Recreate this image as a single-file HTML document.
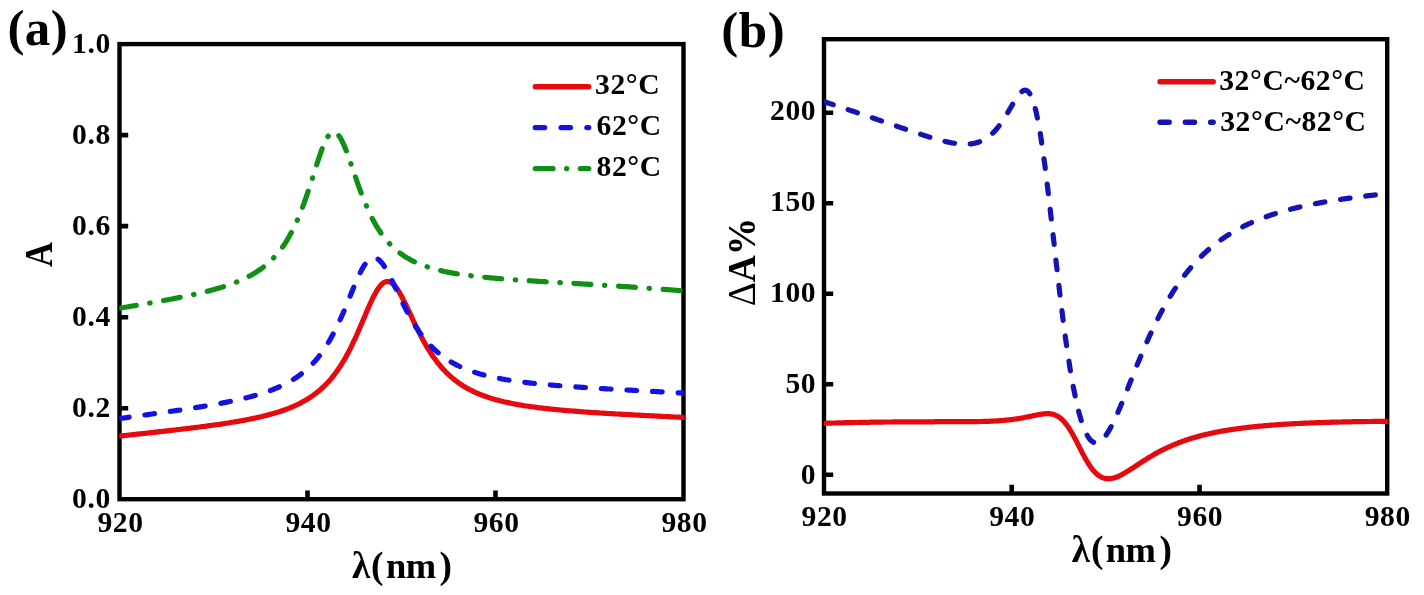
<!DOCTYPE html>
<html lang="en"><head><meta charset="utf-8"><title>Absorption spectra</title>
<style>
html,body{margin:0;padding:0;background:#fff}
body{width:1424px;height:595px;overflow:hidden}
svg{display:block;filter:blur(0.45px)}
text{font-family:"Liberation Serif",serif;font-weight:bold;fill:#000}
.t{font-size:29.6px;letter-spacing:0.6px}
.p{font-size:51px;letter-spacing:0.5px}
.x{font-size:36.5px}
.y{font-size:40px}
.c{fill:none;stroke-linejoin:round}
</style></head><body>
<svg width="1424" height="595" viewBox="0 0 1424 595">
<rect width="1424" height="595" fill="#fff"/>
<defs><clipPath id="ca"><rect x="119.3" y="44.1" width="565.4" height="455.1"/></clipPath><clipPath id="cb"><rect x="823.8" y="39.2" width="564.6" height="454.3"/></clipPath></defs>
<g id="panel-a">
<rect x="119.5" y="44.1" width="564.0" height="455.1" fill="none" stroke="#000" stroke-width="4.4"/>
<path d="M119.5,408.2h8.7 M119.5,317.2h8.7 M119.5,226.1h8.7 M119.5,135.1h8.7 M307.5,499.2v-8.8 M495.5,499.2v-8.8" stroke="#000" stroke-width="4.6" fill="none"/>
<text class="t" x="110.9" y="508.1" text-anchor="end">0.0</text>
<text class="t" x="110.9" y="417.1" text-anchor="end">0.2</text>
<text class="t" x="110.9" y="326.1" text-anchor="end">0.4</text>
<text class="t" x="110.9" y="235.0" text-anchor="end">0.6</text>
<text class="t" x="110.9" y="144.0" text-anchor="end">0.8</text>
<text class="t" x="110.9" y="53.0" text-anchor="end">1.0</text>
<text class="t" x="120.5" y="532.4" text-anchor="middle">920</text>
<text class="t" x="308.5" y="532.4" text-anchor="middle">940</text>
<text class="t" x="496.5" y="532.4" text-anchor="middle">960</text>
<text class="t" x="684.5" y="532.4" text-anchor="middle">980</text>
<text class="p" x="7.4" y="44.5">(a)</text>
<text class="x" x="351.9 371.1 385.95 405.65 439.6" y="578.3"><tspan font-size="37">λ</tspan><tspan font-size="37.4">(</tspan>nm<tspan font-size="37.4">)</tspan></text>
<text class="y" transform="translate(52.4,254.5) rotate(-90) scale(0.865,1)" text-anchor="middle">A</text>
<g clip-path="url(#ca)" stroke-linecap="round">
<path class="c" d="M116.5,436.4 L117.9,436.2 L119.4,436.1 L120.8,435.9 L122.2,435.8 L123.6,435.6 L125.1,435.5 L126.5,435.3 L127.9,435.2 L129.4,435.0 L130.8,434.9 L132.2,434.7 L133.6,434.6 L135.1,434.4 L136.5,434.2 L137.9,434.1 L139.4,433.9 L140.8,433.8 L142.2,433.6 L143.6,433.5 L145.1,433.3 L146.5,433.2 L147.9,433.0 L149.4,432.8 L150.8,432.7 L152.2,432.5 L153.6,432.4 L155.1,432.2 L156.5,432.1 L157.9,431.9 L159.4,431.7 L160.8,431.6 L162.2,431.4 L163.6,431.3 L165.1,431.1 L166.5,430.9 L167.9,430.8 L169.4,430.6 L170.8,430.4 L172.2,430.3 L173.6,430.1 L175.1,430.0 L176.5,429.8 L177.9,429.6 L179.4,429.5 L180.8,429.3 L182.2,429.1 L183.6,428.9 L185.1,428.8 L186.5,428.6 L187.9,428.4 L189.4,428.3 L190.8,428.1 L192.2,427.9 L193.6,427.7 L195.1,427.6 L196.5,427.4 L197.9,427.2 L199.4,427.0 L200.8,426.8 L202.2,426.6 L203.6,426.5 L205.1,426.3 L206.5,426.1 L207.9,425.9 L209.4,425.7 L210.8,425.5 L212.2,425.3 L213.6,425.1 L215.1,424.9 L216.5,424.7 L217.9,424.5 L219.4,424.3 L220.8,424.1 L222.2,423.9 L223.6,423.7 L225.1,423.4 L226.5,423.2 L227.9,423.0 L229.4,422.8 L230.8,422.5 L232.2,422.3 L233.6,422.1 L235.1,421.8 L236.5,421.6 L237.9,421.4 L239.4,421.1 L240.8,420.8 L242.2,420.6 L243.6,420.3 L245.1,420.1 L246.5,419.8 L247.9,419.5 L249.4,419.2 L250.8,418.9 L252.2,418.7 L253.6,418.4 L255.1,418.1 L256.5,417.7 L257.9,417.4 L259.4,417.1 L260.8,416.8 L262.2,416.4 L263.6,416.1 L265.1,415.7 L266.5,415.4 L267.9,415.0 L269.4,414.6 L270.8,414.2 L272.2,413.8 L273.6,413.4 L275.1,413.0 L276.5,412.6 L277.9,412.1 L279.4,411.7 L280.8,411.2 L282.2,410.7 L283.6,410.2 L285.1,409.7 L286.5,409.2 L287.9,408.6 L289.4,408.1 L290.8,407.5 L292.2,406.9 L293.6,406.3 L295.1,405.7 L296.5,405.0 L297.9,404.3 L299.4,403.6 L300.8,402.9 L302.2,402.1 L303.6,401.3 L305.1,400.5 L306.5,399.7 L307.9,398.8 L309.4,397.9 L310.8,397.0 L312.2,396.0 L313.6,395.0 L315.1,393.9 L316.5,392.8 L317.9,391.7 L319.4,390.5 L320.8,389.3 L322.2,388.0 L323.6,386.7 L325.1,385.3 L326.5,383.8 L327.9,382.3 L329.4,380.7 L330.8,379.1 L332.2,377.4 L333.6,375.6 L335.1,373.7 L336.5,371.8 L337.9,369.7 L339.4,367.6 L340.8,365.5 L342.2,363.2 L343.6,360.8 L345.1,358.4 L346.5,355.8 L347.9,353.2 L349.4,350.4 L350.8,347.6 L352.2,344.7 L353.6,341.7 L355.1,338.6 L356.5,335.5 L357.9,332.2 L359.4,328.9 L360.8,325.6 L362.2,322.3 L363.6,318.9 L365.1,315.5 L366.5,312.1 L367.9,308.8 L369.4,305.5 L370.8,302.4 L372.2,299.3 L373.6,296.4 L375.1,293.7 L376.5,291.2 L377.9,289.0 L379.4,286.9 L380.8,285.2 L382.2,283.8 L383.6,282.7 L385.1,282.0 L386.5,281.6 L387.9,281.5 L389.4,281.8 L390.8,282.4 L392.2,283.4 L393.6,284.7 L395.1,286.2 L396.5,288.1 L397.9,290.1 L399.4,292.4 L400.8,294.9 L402.2,297.5 L403.6,300.3 L405.1,303.2 L406.5,306.1 L407.9,309.1 L409.4,312.2 L410.8,315.2 L412.2,318.3 L413.6,321.3 L415.1,324.3 L416.5,327.3 L417.9,330.2 L419.4,333.0 L420.8,335.8 L422.2,338.5 L423.6,341.1 L425.1,343.7 L426.5,346.2 L427.9,348.6 L429.4,350.9 L430.8,353.1 L432.2,355.2 L433.6,357.3 L435.1,359.3 L436.5,361.2 L437.9,363.1 L439.4,364.8 L440.8,366.5 L442.2,368.2 L443.6,369.7 L445.1,371.2 L446.5,372.7 L447.9,374.1 L449.4,375.4 L450.8,376.7 L452.2,377.9 L453.6,379.1 L455.1,380.2 L456.5,381.3 L457.9,382.4 L459.4,383.4 L460.8,384.4 L462.2,385.3 L463.6,386.2 L465.1,387.1 L466.5,387.9 L467.9,388.7 L469.4,389.4 L470.8,390.2 L472.2,390.9 L473.6,391.6 L475.1,392.3 L476.5,392.9 L477.9,393.5 L479.4,394.1 L480.8,394.7 L482.2,395.2 L483.6,395.8 L485.1,396.3 L486.5,396.8 L487.9,397.3 L489.4,397.7 L490.8,398.2 L492.2,398.6 L493.6,399.1 L495.1,399.5 L496.5,399.9 L497.9,400.2 L499.4,400.6 L500.8,401.0 L502.2,401.3 L503.6,401.7 L505.1,402.0 L506.5,402.3 L507.9,402.6 L509.4,402.9 L510.8,403.2 L512.2,403.5 L513.6,403.8 L515.1,404.1 L516.5,404.3 L517.9,404.6 L519.4,404.8 L520.8,405.1 L522.2,405.3 L523.6,405.6 L525.1,405.8 L526.5,406.0 L527.9,406.2 L529.4,406.4 L530.8,406.6 L532.2,406.8 L533.6,407.0 L535.1,407.2 L536.5,407.4 L537.9,407.6 L539.4,407.8 L540.8,407.9 L542.2,408.1 L543.6,408.3 L545.1,408.4 L546.5,408.6 L547.9,408.7 L549.4,408.9 L550.8,409.1 L552.2,409.2 L553.6,409.3 L555.1,409.5 L556.5,409.6 L557.9,409.8 L559.4,409.9 L560.8,410.0 L562.2,410.2 L563.6,410.3 L565.1,410.4 L566.5,410.5 L567.9,410.7 L569.4,410.8 L570.8,410.9 L572.2,411.0 L573.6,411.1 L575.1,411.2 L576.5,411.3 L577.9,411.4 L579.4,411.6 L580.8,411.7 L582.2,411.8 L583.6,411.9 L585.1,412.0 L586.5,412.1 L587.9,412.2 L589.4,412.3 L590.8,412.4 L592.2,412.5 L593.6,412.6 L595.1,412.6 L596.5,412.7 L597.9,412.8 L599.4,412.9 L600.8,413.0 L602.2,413.1 L603.6,413.2 L605.1,413.3 L606.5,413.4 L607.9,413.5 L609.4,413.5 L610.8,413.6 L612.2,413.7 L613.6,413.8 L615.1,413.9 L616.5,414.0 L617.9,414.0 L619.4,414.1 L620.8,414.2 L622.2,414.3 L623.6,414.4 L625.1,414.4 L626.5,414.5 L627.9,414.6 L629.4,414.7 L630.8,414.7 L632.2,414.8 L633.6,414.9 L635.1,415.0 L636.5,415.1 L637.9,415.1 L639.4,415.2 L640.8,415.3 L642.2,415.4 L643.6,415.4 L645.1,415.5 L646.5,415.6 L647.9,415.7 L649.4,415.7 L650.8,415.8 L652.2,415.9 L653.6,415.9 L655.1,416.0 L656.5,416.1 L657.9,416.2 L659.4,416.2 L660.8,416.3 L662.2,416.4 L663.6,416.5 L665.1,416.5 L666.5,416.6 L667.9,416.7 L669.4,416.7 L670.8,416.8 L672.2,416.9 L673.6,417.0 L675.1,417.0 L676.5,417.1 L677.9,417.2 L679.4,417.2 L680.8,417.3 L682.2,417.4 L683.6,417.5 L685.1,417.5 L686.5,417.6" stroke="#e60a0f" stroke-width="5.2"/>
<path class="c" d="M119.5,418.5 L120.9,418.4 L122.3,418.2 L123.7,418.0 L125.2,417.8 L126.6,417.6 L128.0,417.4 L129.4,417.2 L130.8,417.0 L132.2,416.8 L133.6,416.6 L135.0,416.4 L136.5,416.2 L137.9,416.0 L139.3,415.8 L140.7,415.6 L142.1,415.4 L143.5,415.2 L144.9,415.0 L146.4,414.8 L147.8,414.6 L149.2,414.4 L150.6,414.2 L152.0,414.0 L153.4,413.8 L154.8,413.6 L156.3,413.4 L157.7,413.2 L159.1,413.0 L160.5,412.8 L161.9,412.6 L163.3,412.4 L164.7,412.2 L166.1,412.0 L167.6,411.8 L169.0,411.6 L170.4,411.4 L171.8,411.2 L173.2,411.0 L174.6,410.8 L176.0,410.6 L177.5,410.4 L178.9,410.2 L180.3,410.0 L181.7,409.7 L183.1,409.5 L184.5,409.3 L185.9,409.1 L187.3,408.9 L188.8,408.7 L190.2,408.5 L191.6,408.2 L193.0,408.0 L194.4,407.8 L195.8,407.6 L197.2,407.3 L198.7,407.1 L200.1,406.9 L201.5,406.7 L202.9,406.4 L204.3,406.2 L205.7,405.9 L207.1,405.7 L208.6,405.5 L210.0,405.2 L211.4,405.0 L212.8,404.7 L214.2,404.5 L215.6,404.2 L217.0,404.0 L218.4,403.7 L219.9,403.5 L221.3,403.2 L222.7,402.9 L224.1,402.6 L225.5,402.4 L226.9,402.1 L228.3,401.8 L229.8,401.5 L231.2,401.2 L232.6,400.9 L234.0,400.6 L235.4,400.3 L236.8,400.0 L238.2,399.7 L239.7,399.4 L241.1,399.1 L242.5,398.7 L243.9,398.4 L245.3,398.0 L246.7,397.7 L248.1,397.3 L249.5,397.0 L251.0,396.6 L252.4,396.2 L253.8,395.8 L255.2,395.4 L256.6,395.0 L258.0,394.6 L259.4,394.2 L260.9,393.8 L262.3,393.3 L263.7,392.8 L265.1,392.4 L266.5,391.9 L267.9,391.4 L269.3,390.9 L270.7,390.4 L272.2,389.8 L273.6,389.3 L275.0,388.7 L276.4,388.1 L277.8,387.5 L279.2,386.9 L280.6,386.3 L282.1,385.6 L283.5,384.9 L284.9,384.2 L286.3,383.5 L287.7,382.7 L289.1,381.9 L290.5,381.1 L292.0,380.3 L293.4,379.4 L294.8,378.5 L296.2,377.6 L297.6,376.6 L299.0,375.6 L300.4,374.6 L301.8,373.5 L303.3,372.4 L304.7,371.2 L306.1,370.0 L307.5,368.7 L308.9,367.4 L310.3,366.0 L311.7,364.6 L313.2,363.1 L314.6,361.6 L316.0,360.0 L317.4,358.3 L318.8,356.5 L320.2,354.7 L321.6,352.8 L323.0,350.8 L324.5,348.7 L325.9,346.6 L327.3,344.4 L328.7,342.0 L330.1,339.6 L331.5,337.1 L332.9,334.5 L334.4,331.8 L335.8,329.0 L337.2,326.1 L338.6,323.1 L340.0,320.0 L341.4,316.9 L342.8,313.7 L344.3,310.4 L345.7,307.0 L347.1,303.6 L348.5,300.1 L349.9,296.7 L351.3,293.2 L352.7,289.7 L354.1,286.3 L355.6,283.0 L357.0,279.7 L358.4,276.6 L359.8,273.6 L361.2,270.8 L362.6,268.2 L364.0,265.8 L365.5,263.7 L366.9,261.9 L368.3,260.3 L369.7,259.2 L371.1,258.3 L372.5,257.8 L373.9,257.7 L375.3,257.9 L376.8,258.4 L378.2,259.3 L379.6,260.4 L381.0,261.9 L382.4,263.6 L383.8,265.6 L385.2,267.8 L386.7,270.2 L388.1,272.8 L389.5,275.5 L390.9,278.3 L392.3,281.1 L393.7,284.1 L395.1,287.0 L396.6,290.0 L398.0,293.0 L399.4,296.0 L400.8,299.0 L402.2,301.9 L403.6,304.8 L405.0,307.6 L406.4,310.3 L407.9,313.0 L409.3,315.6 L410.7,318.1 L412.1,320.6 L413.5,323.0 L414.9,325.3 L416.3,327.5 L417.8,329.6 L419.2,331.7 L420.6,333.7 L422.0,335.6 L423.4,337.4 L424.8,339.2 L426.2,340.9 L427.7,342.5 L429.1,344.1 L430.5,345.6 L431.9,347.0 L433.3,348.4 L434.7,349.8 L436.1,351.0 L437.5,352.3 L439.0,353.5 L440.4,354.6 L441.8,355.7 L443.2,356.8 L444.6,357.8 L446.0,358.7 L447.4,359.7 L448.9,360.6 L450.3,361.4 L451.7,362.3 L453.1,363.1 L454.5,363.8 L455.9,364.6 L457.3,365.3 L458.7,366.0 L460.2,366.7 L461.6,367.3 L463.0,367.9 L464.4,368.5 L465.8,369.1 L467.2,369.7 L468.6,370.2 L470.1,370.7 L471.5,371.2 L472.9,371.7 L474.3,372.2 L475.7,372.6 L477.1,373.1 L478.5,373.5 L480.0,373.9 L481.4,374.3 L482.8,374.7 L484.2,375.1 L485.6,375.4 L487.0,375.8 L488.4,376.1 L489.8,376.5 L491.3,376.8 L492.7,377.1 L494.1,377.4 L495.5,377.7 L496.9,378.0 L498.3,378.3 L499.7,378.5 L501.2,378.8 L502.6,379.1 L504.0,379.3 L505.4,379.6 L506.8,379.8 L508.2,380.0 L509.6,380.3 L511.0,380.5 L512.5,380.7 L513.9,380.9 L515.3,381.1 L516.7,381.3 L518.1,381.5 L519.5,381.7 L520.9,381.9 L522.4,382.1 L523.8,382.2 L525.2,382.4 L526.6,382.6 L528.0,382.7 L529.4,382.9 L530.8,383.1 L532.3,383.2 L533.7,383.4 L535.1,383.5 L536.5,383.7 L537.9,383.8 L539.3,384.0 L540.7,384.1 L542.1,384.2 L543.6,384.4 L545.0,384.5 L546.4,384.6 L547.8,384.8 L549.2,384.9 L550.6,385.0 L552.0,385.1 L553.5,385.2 L554.9,385.4 L556.3,385.5 L557.7,385.6 L559.1,385.7 L560.5,385.8 L561.9,385.9 L563.3,386.0 L564.8,386.1 L566.2,386.2 L567.6,386.3 L569.0,386.5 L570.4,386.6 L571.8,386.7 L573.2,386.8 L574.7,386.8 L576.1,386.9 L577.5,387.0 L578.9,387.1 L580.3,387.2 L581.7,387.3 L583.1,387.4 L584.6,387.5 L586.0,387.6 L587.4,387.7 L588.8,387.8 L590.2,387.9 L591.6,387.9 L593.0,388.0 L594.4,388.1 L595.9,388.2 L597.3,388.3 L598.7,388.4 L600.1,388.5 L601.5,388.5 L602.9,388.6 L604.3,388.7 L605.8,388.8 L607.2,388.9 L608.6,389.0 L610.0,389.0 L611.4,389.1 L612.8,389.2 L614.2,389.3 L615.7,389.4 L617.1,389.4 L618.5,389.5 L619.9,389.6 L621.3,389.7 L622.7,389.7 L624.1,389.8 L625.5,389.9 L627.0,390.0 L628.4,390.1 L629.8,390.1 L631.2,390.2 L632.6,390.3 L634.0,390.4 L635.4,390.4 L636.9,390.5 L638.3,390.6 L639.7,390.7 L641.1,390.8 L642.5,390.8 L643.9,390.9 L645.3,391.0 L646.7,391.1 L648.2,391.1 L649.6,391.2 L651.0,391.3 L652.4,391.4 L653.8,391.4 L655.2,391.5 L656.6,391.6 L658.1,391.7 L659.5,391.8 L660.9,391.8 L662.3,391.9 L663.7,392.0 L665.1,392.1 L666.5,392.1 L668.0,392.2 L669.4,392.3 L670.8,392.4 L672.2,392.5 L673.6,392.5 L675.0,392.6 L676.4,392.7 L677.8,392.8 L679.3,392.9 L680.7,392.9 L682.1,393.0 L683.5,393.1" stroke="#1212e6" stroke-width="5.2" stroke-dasharray="9.7 15.93"/>
<path class="c" d="M119.5,308.2 L120.9,308.0 L122.3,307.7 L123.7,307.5 L125.2,307.2 L126.6,307.0 L128.0,306.8 L129.4,306.5 L130.8,306.3 L132.2,306.0 L133.6,305.8 L135.0,305.6 L136.5,305.3 L137.9,305.1 L139.3,304.8 L140.7,304.6 L142.1,304.3 L143.5,304.1 L144.9,303.9 L146.4,303.6 L147.8,303.4 L149.2,303.1 L150.6,302.9 L152.0,302.6 L153.4,302.4 L154.8,302.1 L156.3,301.9 L157.7,301.6 L159.1,301.3 L160.5,301.1 L161.9,300.8 L163.3,300.6 L164.7,300.3 L166.1,300.0 L167.6,299.8 L169.0,299.5 L170.4,299.2 L171.8,299.0 L173.2,298.7 L174.6,298.4 L176.0,298.2 L177.5,297.9 L178.9,297.6 L180.3,297.3 L181.7,297.0 L183.1,296.7 L184.5,296.5 L185.9,296.2 L187.3,295.9 L188.8,295.6 L190.2,295.3 L191.6,295.0 L193.0,294.6 L194.4,294.3 L195.8,294.0 L197.2,293.7 L198.7,293.4 L200.1,293.0 L201.5,292.7 L202.9,292.4 L204.3,292.0 L205.7,291.7 L207.1,291.3 L208.6,290.9 L210.0,290.6 L211.4,290.2 L212.8,289.8 L214.2,289.4 L215.6,289.0 L217.0,288.6 L218.4,288.2 L219.9,287.8 L221.3,287.4 L222.7,286.9 L224.1,286.5 L225.5,286.0 L226.9,285.6 L228.3,285.1 L229.8,284.6 L231.2,284.1 L232.6,283.6 L234.0,283.0 L235.4,282.5 L236.8,281.9 L238.2,281.3 L239.7,280.7 L241.1,280.1 L242.5,279.5 L243.9,278.8 L245.3,278.2 L246.7,277.5 L248.1,276.7 L249.5,276.0 L251.0,275.2 L252.4,274.4 L253.8,273.6 L255.2,272.8 L256.6,271.9 L258.0,270.9 L259.4,270.0 L260.9,269.0 L262.3,268.0 L263.7,266.9 L265.1,265.8 L266.5,264.6 L267.9,263.4 L269.3,262.1 L270.7,260.8 L272.2,259.4 L273.6,257.9 L275.0,256.4 L276.4,254.8 L277.8,253.2 L279.2,251.4 L280.6,249.6 L282.1,247.7 L283.5,245.7 L284.9,243.6 L286.3,241.4 L287.7,239.1 L289.1,236.6 L290.5,234.1 L292.0,231.4 L293.4,228.7 L294.8,225.7 L296.2,222.7 L297.6,219.5 L299.0,216.2 L300.4,212.7 L301.8,209.1 L303.3,205.3 L304.7,201.4 L306.1,197.4 L307.5,193.3 L308.9,189.0 L310.3,184.7 L311.7,180.3 L313.2,175.8 L314.6,171.3 L316.0,166.9 L317.4,162.5 L318.8,158.2 L320.2,154.1 L321.6,150.1 L323.0,146.5 L324.5,143.1 L325.9,140.1 L327.3,137.5 L328.7,135.4 L330.1,133.7 L331.5,132.6 L332.9,132.1 L334.4,132.1 L335.8,132.6 L337.2,133.7 L338.6,135.3 L340.0,137.3 L341.4,139.8 L342.8,142.7 L344.3,145.9 L345.7,149.3 L347.1,153.0 L348.5,156.9 L349.9,160.9 L351.3,165.0 L352.7,169.2 L354.1,173.3 L355.6,177.4 L357.0,181.5 L358.4,185.5 L359.8,189.4 L361.2,193.1 L362.6,196.8 L364.0,200.4 L365.5,203.8 L366.9,207.1 L368.3,210.3 L369.7,213.3 L371.1,216.2 L372.5,219.0 L373.9,221.6 L375.3,224.1 L376.8,226.6 L378.2,228.8 L379.6,231.0 L381.0,233.1 L382.4,235.1 L383.8,237.0 L385.2,238.8 L386.7,240.5 L388.1,242.1 L389.5,243.7 L390.9,245.1 L392.3,246.5 L393.7,247.9 L395.1,249.2 L396.6,250.4 L398.0,251.5 L399.4,252.6 L400.8,253.7 L402.2,254.7 L403.6,255.7 L405.0,256.6 L406.4,257.5 L407.9,258.3 L409.3,259.1 L410.7,259.9 L412.1,260.6 L413.5,261.3 L414.9,262.0 L416.3,262.7 L417.8,263.3 L419.2,263.9 L420.6,264.4 L422.0,265.0 L423.4,265.5 L424.8,266.0 L426.2,266.5 L427.7,267.0 L429.1,267.4 L430.5,267.9 L431.9,268.3 L433.3,268.7 L434.7,269.1 L436.1,269.5 L437.5,269.8 L439.0,270.2 L440.4,270.5 L441.8,270.9 L443.2,271.2 L444.6,271.5 L446.0,271.8 L447.4,272.1 L448.9,272.3 L450.3,272.6 L451.7,272.9 L453.1,273.1 L454.5,273.4 L455.9,273.6 L457.3,273.8 L458.7,274.1 L460.2,274.3 L461.6,274.5 L463.0,274.7 L464.4,274.9 L465.8,275.1 L467.2,275.3 L468.6,275.5 L470.1,275.6 L471.5,275.8 L472.9,276.0 L474.3,276.2 L475.7,276.3 L477.1,276.5 L478.5,276.6 L480.0,276.8 L481.4,276.9 L482.8,277.1 L484.2,277.2 L485.6,277.4 L487.0,277.5 L488.4,277.6 L489.8,277.8 L491.3,277.9 L492.7,278.0 L494.1,278.1 L495.5,278.3 L496.9,278.4 L498.3,278.5 L499.7,278.6 L501.2,278.7 L502.6,278.9 L504.0,279.0 L505.4,279.1 L506.8,279.2 L508.2,279.3 L509.6,279.4 L511.0,279.5 L512.5,279.6 L513.9,279.7 L515.3,279.8 L516.7,279.9 L518.1,280.0 L519.5,280.1 L520.9,280.2 L522.4,280.3 L523.8,280.4 L525.2,280.5 L526.6,280.6 L528.0,280.7 L529.4,280.7 L530.8,280.8 L532.3,280.9 L533.7,281.0 L535.1,281.1 L536.5,281.2 L537.9,281.3 L539.3,281.4 L540.7,281.5 L542.1,281.5 L543.6,281.6 L545.0,281.7 L546.4,281.8 L547.8,281.9 L549.2,282.0 L550.6,282.1 L552.0,282.1 L553.5,282.2 L554.9,282.3 L556.3,282.4 L557.7,282.5 L559.1,282.6 L560.5,282.6 L561.9,282.7 L563.3,282.8 L564.8,282.9 L566.2,283.0 L567.6,283.1 L569.0,283.1 L570.4,283.2 L571.8,283.3 L573.2,283.4 L574.7,283.5 L576.1,283.6 L577.5,283.6 L578.9,283.7 L580.3,283.8 L581.7,283.9 L583.1,284.0 L584.6,284.1 L586.0,284.1 L587.4,284.2 L588.8,284.3 L590.2,284.4 L591.6,284.5 L593.0,284.6 L594.4,284.7 L595.9,284.7 L597.3,284.8 L598.7,284.9 L600.1,285.0 L601.5,285.1 L602.9,285.2 L604.3,285.3 L605.8,285.4 L607.2,285.5 L608.6,285.5 L610.0,285.6 L611.4,285.7 L612.8,285.8 L614.2,285.9 L615.7,286.0 L617.1,286.1 L618.5,286.2 L619.9,286.3 L621.3,286.4 L622.7,286.5 L624.1,286.5 L625.5,286.6 L627.0,286.7 L628.4,286.8 L629.8,286.9 L631.2,287.0 L632.6,287.1 L634.0,287.2 L635.4,287.3 L636.9,287.4 L638.3,287.5 L639.7,287.6 L641.1,287.7 L642.5,287.8 L643.9,287.9 L645.3,288.0 L646.7,288.1 L648.2,288.2 L649.6,288.3 L651.0,288.4 L652.4,288.5 L653.8,288.6 L655.2,288.7 L656.6,288.8 L658.1,288.9 L659.5,289.0 L660.9,289.1 L662.3,289.3 L663.7,289.4 L665.1,289.5 L666.5,289.6 L668.0,289.7 L669.4,289.8 L670.8,289.9 L672.2,290.0 L673.6,290.1 L675.0,290.2 L676.4,290.3 L677.8,290.5 L679.3,290.6 L680.7,290.7 L682.1,290.8 L683.5,290.9" stroke="#0f8f14" stroke-width="5.2" stroke-dasharray="17 13.6 0.5 13.6"/>
</g>
<g stroke-linecap="round" stroke-width="5.4">
<path class="c" d="M535.3,86.7H588.7" stroke="#e60a0f"/>
<path class="c" d="M535.3,127.6H588.7" stroke="#1212e6" stroke-dasharray="9.3 16.5"/>
<path class="c" d="M535.3,168.6H588.7" stroke="#0f8f14" stroke-dasharray="17.7 13.6 0.1 13.7"/>
</g>
<text class="t" x="595" y="94.2">32°C</text>
<text class="t" x="596.5" y="135.2">62°C</text>
<text class="t" x="596.5" y="176.2">82°C</text>
</g>
<g id="panel-b">
<rect x="824.0" y="39.2" width="563.2" height="454.3" fill="none" stroke="#000" stroke-width="4.4"/>
<path d="M824.0,474.8h9.2 M824.0,384.3h9.2 M824.0,293.8h9.2 M824.0,203.3h9.2 M824.0,112.8h9.2 M1011.7,493.5v-8.8 M1199.5,493.5v-8.8" stroke="#000" stroke-width="4.6" fill="none"/>
<text class="t" x="816.2" y="483.6" text-anchor="end">0</text>
<text class="t" x="816.2" y="392.8" text-anchor="end">50</text>
<text class="t" x="816.2" y="301.9" text-anchor="end">100</text>
<text class="t" x="816.2" y="211.1" text-anchor="end">150</text>
<text class="t" x="816.2" y="120.2" text-anchor="end">200</text>
<text class="t" x="824.6" y="525.8" text-anchor="middle">920</text>
<text class="t" x="1012.3" y="525.8" text-anchor="middle">940</text>
<text class="t" x="1200.1" y="525.8" text-anchor="middle">960</text>
<text class="t" x="1387.8" y="525.8" text-anchor="middle">980</text>
<text class="p" x="721.3" y="46.8">(b)</text>
<text class="x" x="1071.7 1090.9 1105.75 1125.45 1159.4" y="562.1"><tspan font-size="37">λ</tspan><tspan font-size="37.4">(</tspan>nm<tspan font-size="37.4">)</tspan></text>
<text class="y" transform="translate(754.8,262) rotate(-90) scale(0.935,1.02)" text-anchor="middle"><tspan font-weight="normal">Δ</tspan>A%</text>
<g clip-path="url(#cb)" stroke-linecap="round">
<path class="c" d="M821.0,423.4 L822.0,423.3 L822.9,423.3 L823.9,423.3 L824.8,423.3 L825.8,423.2 L826.7,423.2 L827.7,423.2 L828.6,423.1 L829.6,423.1 L830.5,423.1 L831.5,423.1 L832.4,423.0 L833.4,423.0 L834.3,423.0 L835.3,423.0 L836.2,423.0 L837.2,422.9 L838.1,422.9 L839.1,422.9 L840.0,422.9 L841.0,422.8 L841.9,422.8 L842.9,422.8 L843.8,422.8 L844.8,422.7 L845.7,422.7 L846.7,422.7 L847.6,422.7 L848.6,422.7 L849.5,422.6 L850.5,422.6 L851.4,422.6 L852.4,422.6 L853.3,422.6 L854.3,422.5 L855.2,422.5 L856.2,422.5 L857.1,422.5 L858.1,422.5 L859.0,422.4 L860.0,422.4 L860.9,422.4 L861.9,422.4 L862.8,422.4 L863.8,422.4 L864.7,422.3 L865.7,422.3 L866.6,422.3 L867.6,422.3 L868.5,422.3 L869.5,422.3 L870.4,422.2 L871.4,422.2 L872.3,422.2 L873.3,422.2 L874.2,422.2 L875.2,422.2 L876.1,422.2 L877.1,422.1 L878.0,422.1 L879.0,422.1 L879.9,422.1 L880.9,422.1 L881.8,422.1 L882.8,422.1 L883.7,422.1 L884.7,422.0 L885.6,422.0 L886.6,422.0 L887.5,422.0 L888.5,422.0 L889.4,422.0 L890.4,422.0 L891.3,422.0 L892.3,422.0 L893.2,421.9 L894.2,421.9 L895.1,421.9 L896.1,421.9 L897.0,421.9 L898.0,421.9 L898.9,421.9 L899.9,421.9 L900.8,421.9 L901.8,421.9 L902.7,421.9 L903.7,421.9 L904.6,421.9 L905.6,421.8 L906.5,421.8 L907.5,421.8 L908.4,421.8 L909.4,421.8 L910.3,421.8 L911.3,421.8 L912.2,421.8 L913.2,421.8 L914.1,421.8 L915.1,421.8 L916.0,421.8 L917.0,421.8 L917.9,421.8 L918.9,421.8 L919.8,421.8 L920.8,421.8 L921.7,421.8 L922.7,421.8 L923.6,421.8 L924.6,421.8 L925.5,421.8 L926.5,421.8 L927.4,421.8 L928.4,421.8 L929.3,421.8 L930.3,421.8 L931.2,421.8 L932.2,421.8 L933.1,421.8 L934.1,421.8 L935.0,421.7 L936.0,421.7 L936.9,421.7 L937.9,421.7 L938.8,421.7 L939.8,421.7 L940.7,421.7 L941.7,421.7 L942.6,421.7 L943.6,421.7 L944.5,421.7 L945.5,421.7 L946.4,421.7 L947.4,421.7 L948.3,421.7 L949.3,421.7 L950.2,421.7 L951.2,421.7 L952.1,421.7 L953.1,421.7 L954.0,421.7 L955.0,421.7 L955.9,421.7 L956.9,421.7 L957.8,421.7 L958.8,421.7 L959.7,421.7 L960.7,421.7 L961.6,421.7 L962.6,421.7 L963.5,421.7 L964.5,421.7 L965.4,421.7 L966.4,421.7 L967.3,421.7 L968.3,421.7 L969.2,421.7 L970.2,421.7 L971.1,421.7 L972.1,421.7 L973.0,421.6 L974.0,421.6 L974.9,421.6 L975.9,421.6 L976.8,421.6 L977.8,421.6 L978.7,421.6 L979.7,421.5 L980.6,421.5 L981.6,421.5 L982.5,421.5 L983.5,421.4 L984.4,421.4 L985.4,421.4 L986.3,421.4 L987.3,421.3 L988.2,421.3 L989.2,421.3 L990.2,421.2 L991.1,421.2 L992.1,421.1 L993.0,421.1 L994.0,421.0 L994.9,421.0 L995.9,420.9 L996.8,420.9 L997.8,420.8 L998.7,420.8 L999.7,420.7 L1000.6,420.6 L1001.6,420.5 L1002.5,420.5 L1003.5,420.4 L1004.4,420.3 L1005.4,420.2 L1006.3,420.1 L1007.3,420.0 L1008.2,419.9 L1009.2,419.8 L1010.1,419.7 L1011.1,419.6 L1012.0,419.5 L1013.0,419.4 L1013.9,419.2 L1014.9,419.1 L1015.8,419.0 L1016.8,418.8 L1017.7,418.7 L1018.7,418.5 L1019.6,418.4 L1020.6,418.2 L1021.5,418.0 L1022.5,417.9 L1023.4,417.7 L1024.4,417.5 L1025.3,417.3 L1026.3,417.1 L1027.2,417.0 L1028.2,416.8 L1029.1,416.6 L1030.1,416.4 L1031.0,416.2 L1032.0,416.0 L1032.9,415.8 L1033.9,415.6 L1034.8,415.4 L1035.8,415.2 L1036.7,415.0 L1037.7,414.8 L1038.6,414.6 L1039.6,414.5 L1040.5,414.3 L1041.5,414.2 L1042.4,414.0 L1043.4,413.9 L1044.3,413.8 L1045.3,413.7 L1046.2,413.7 L1047.2,413.7 L1048.1,413.7 L1049.1,413.7 L1050.0,413.8 L1051.0,413.9 L1051.9,414.1 L1052.9,414.3 L1053.8,414.6 L1054.8,414.9 L1055.7,415.3 L1056.7,415.7 L1057.6,416.2 L1058.6,416.8 L1059.5,417.5 L1060.5,418.2 L1061.4,419.0 L1062.4,419.9 L1063.3,420.8 L1064.3,421.9 L1065.2,423.0 L1066.2,424.2 L1067.1,425.4 L1068.1,426.8 L1069.0,428.2 L1070.0,429.7 L1070.9,431.3 L1071.9,432.9 L1072.8,434.6 L1073.8,436.3 L1074.7,438.1 L1075.7,439.9 L1076.6,441.7 L1077.6,443.6 L1078.5,445.4 L1079.5,447.3 L1080.4,449.2 L1081.4,451.0 L1082.3,452.9 L1083.3,454.7 L1084.2,456.4 L1085.2,458.2 L1086.1,459.8 L1087.1,461.5 L1088.0,463.0 L1089.0,464.5 L1089.9,465.9 L1090.9,467.3 L1091.8,468.6 L1092.8,469.8 L1093.7,470.9 L1094.7,472.0 L1095.6,472.9 L1096.6,473.8 L1097.5,474.7 L1098.5,475.4 L1099.4,476.0 L1100.4,476.6 L1101.3,477.1 L1102.3,477.6 L1103.2,477.9 L1104.2,478.2 L1105.1,478.4 L1106.1,478.6 L1107.0,478.7 L1108.0,478.8 L1108.9,478.7 L1109.9,478.7 L1110.8,478.6 L1111.8,478.4 L1112.7,478.2 L1113.7,478.0 L1114.6,477.7 L1115.6,477.4 L1116.5,477.0 L1117.5,476.7 L1118.4,476.3 L1119.4,475.8 L1120.3,475.4 L1121.3,474.9 L1122.2,474.4 L1123.2,473.9 L1124.1,473.3 L1125.1,472.8 L1126.0,472.2 L1127.0,471.6 L1127.9,471.1 L1128.9,470.5 L1129.8,469.9 L1130.8,469.3 L1131.7,468.6 L1132.7,468.0 L1133.6,467.4 L1134.6,466.8 L1135.5,466.2 L1136.5,465.5 L1137.4,464.9 L1138.4,464.3 L1139.3,463.7 L1140.3,463.0 L1141.2,462.4 L1142.2,461.8 L1143.1,461.2 L1144.1,460.6 L1145.0,460.0 L1146.0,459.4 L1146.9,458.8 L1147.9,458.2 L1148.8,457.6 L1149.8,457.0 L1150.7,456.5 L1151.7,455.9 L1152.6,455.3 L1153.6,454.8 L1154.5,454.2 L1155.5,453.7 L1156.5,453.2 L1157.4,452.6 L1158.4,452.1 L1159.3,451.6 L1160.3,451.1 L1161.2,450.6 L1162.2,450.1 L1163.1,449.7 L1164.1,449.2 L1165.0,448.7 L1166.0,448.3 L1166.9,447.8 L1167.9,447.4 L1168.8,446.9 L1169.8,446.5 L1170.7,446.1 L1171.7,445.6 L1172.6,445.2 L1173.6,444.8 L1174.5,444.4 L1175.5,444.0 L1176.4,443.7 L1177.4,443.3 L1178.3,442.9 L1179.3,442.5 L1180.2,442.2 L1181.2,441.8 L1182.1,441.5 L1183.1,441.1 L1184.0,440.8 L1185.0,440.5 L1185.9,440.1 L1186.9,439.8 L1187.8,439.5 L1188.8,439.2 L1189.7,438.9 L1190.7,438.6 L1191.6,438.3 L1192.6,438.0 L1193.5,437.7 L1194.5,437.4 L1195.4,437.2 L1196.4,436.9 L1197.3,436.6 L1198.3,436.4 L1199.2,436.1 L1200.2,435.9 L1201.1,435.6 L1202.1,435.4 L1203.0,435.1 L1204.0,434.9 L1204.9,434.7 L1205.9,434.4 L1206.8,434.2 L1207.8,434.0 L1208.7,433.8 L1209.7,433.6 L1210.6,433.4 L1211.6,433.2 L1212.5,433.0 L1213.5,432.8 L1214.4,432.6 L1215.4,432.4 L1216.3,432.2 L1217.3,432.0 L1218.2,431.8 L1219.2,431.6 L1220.1,431.5 L1221.1,431.3 L1222.0,431.1 L1223.0,430.9 L1223.9,430.8 L1224.9,430.6 L1225.8,430.5 L1226.8,430.3 L1227.7,430.2 L1228.7,430.0 L1229.6,429.8 L1230.6,429.7 L1231.5,429.6 L1232.5,429.4 L1233.4,429.3 L1234.4,429.1 L1235.3,429.0 L1236.3,428.9 L1237.2,428.7 L1238.2,428.6 L1239.1,428.5 L1240.1,428.4 L1241.0,428.2 L1242.0,428.1 L1242.9,428.0 L1243.9,427.9 L1244.8,427.8 L1245.8,427.6 L1246.7,427.5 L1247.7,427.4 L1248.6,427.3 L1249.6,427.2 L1250.5,427.1 L1251.5,427.0 L1252.4,426.9 L1253.4,426.8 L1254.3,426.7 L1255.3,426.6 L1256.2,426.5 L1257.2,426.4 L1258.1,426.3 L1259.1,426.2 L1260.0,426.1 L1261.0,426.1 L1261.9,426.0 L1262.9,425.9 L1263.8,425.8 L1264.8,425.7 L1265.7,425.6 L1266.7,425.6 L1267.6,425.5 L1268.6,425.4 L1269.5,425.3 L1270.5,425.2 L1271.4,425.2 L1272.4,425.1 L1273.3,425.0 L1274.3,425.0 L1275.2,424.9 L1276.2,424.8 L1277.1,424.8 L1278.1,424.7 L1279.0,424.6 L1280.0,424.6 L1280.9,424.5 L1281.9,424.4 L1282.8,424.4 L1283.8,424.3 L1284.7,424.2 L1285.7,424.2 L1286.6,424.1 L1287.6,424.1 L1288.5,424.0 L1289.5,424.0 L1290.4,423.9 L1291.4,423.9 L1292.3,423.8 L1293.3,423.7 L1294.2,423.7 L1295.2,423.6 L1296.1,423.6 L1297.1,423.5 L1298.0,423.5 L1299.0,423.5 L1299.9,423.4 L1300.9,423.4 L1301.8,423.3 L1302.8,423.3 L1303.7,423.2 L1304.7,423.2 L1305.6,423.1 L1306.6,423.1 L1307.5,423.1 L1308.5,423.0 L1309.4,423.0 L1310.4,422.9 L1311.3,422.9 L1312.3,422.9 L1313.2,422.8 L1314.2,422.8 L1315.1,422.8 L1316.1,422.7 L1317.0,422.7 L1318.0,422.7 L1318.9,422.6 L1319.9,422.6 L1320.8,422.6 L1321.8,422.5 L1322.7,422.5 L1323.7,422.5 L1324.7,422.4 L1325.6,422.4 L1326.6,422.4 L1327.5,422.3 L1328.5,422.3 L1329.4,422.3 L1330.4,422.3 L1331.3,422.2 L1332.3,422.2 L1333.2,422.2 L1334.2,422.2 L1335.1,422.1 L1336.1,422.1 L1337.0,422.1 L1338.0,422.1 L1338.9,422.0 L1339.9,422.0 L1340.8,422.0 L1341.8,422.0 L1342.7,421.9 L1343.7,421.9 L1344.6,421.9 L1345.6,421.9 L1346.5,421.9 L1347.5,421.8 L1348.4,421.8 L1349.4,421.8 L1350.3,421.8 L1351.3,421.8 L1352.2,421.7 L1353.2,421.7 L1354.1,421.7 L1355.1,421.7 L1356.0,421.7 L1357.0,421.7 L1357.9,421.7 L1358.9,421.6 L1359.8,421.6 L1360.8,421.6 L1361.7,421.6 L1362.7,421.6 L1363.6,421.6 L1364.6,421.6 L1365.5,421.5 L1366.5,421.5 L1367.4,421.5 L1368.4,421.5 L1369.3,421.5 L1370.3,421.5 L1371.2,421.5 L1372.2,421.5 L1373.1,421.4 L1374.1,421.4 L1375.0,421.4 L1376.0,421.4 L1376.9,421.4 L1377.9,421.4 L1378.8,421.4 L1379.8,421.4 L1380.7,421.4 L1381.7,421.4 L1382.6,421.4 L1383.6,421.4 L1384.5,421.3 L1385.5,421.3 L1386.4,421.3 L1387.4,421.3 L1388.3,421.3 L1389.3,421.3 L1390.2,421.3" stroke="#e60a0f" stroke-width="5.2"/>
<path class="c" d="M824.0,101.6 L824.9,101.9 L825.9,102.2 L826.8,102.5 L827.8,102.9 L828.7,103.2 L829.6,103.5 L830.6,103.8 L831.5,104.1 L832.5,104.4 L833.4,104.7 L834.3,105.0 L835.3,105.4 L836.2,105.7 L837.2,106.0 L838.1,106.3 L839.0,106.6 L840.0,106.9 L840.9,107.2 L841.9,107.5 L842.8,107.9 L843.7,108.2 L844.7,108.5 L845.6,108.8 L846.6,109.1 L847.5,109.4 L848.4,109.7 L849.4,110.1 L850.3,110.4 L851.3,110.7 L852.2,111.0 L853.1,111.3 L854.1,111.6 L855.0,111.9 L856.0,112.3 L856.9,112.6 L857.8,112.9 L858.8,113.2 L859.7,113.5 L860.7,113.8 L861.6,114.2 L862.6,114.5 L863.5,114.8 L864.4,115.1 L865.4,115.4 L866.3,115.8 L867.3,116.1 L868.2,116.4 L869.1,116.7 L870.1,117.0 L871.0,117.4 L872.0,117.7 L872.9,118.0 L873.8,118.3 L874.8,118.6 L875.7,119.0 L876.7,119.3 L877.6,119.6 L878.5,119.9 L879.5,120.2 L880.4,120.6 L881.4,120.9 L882.3,121.2 L883.2,121.5 L884.2,121.8 L885.1,122.2 L886.1,122.5 L887.0,122.8 L887.9,123.1 L888.9,123.5 L889.8,123.8 L890.8,124.1 L891.7,124.4 L892.6,124.7 L893.6,125.1 L894.5,125.4 L895.5,125.7 L896.4,126.0 L897.3,126.4 L898.3,126.7 L899.2,127.0 L900.2,127.3 L901.1,127.7 L902.0,128.0 L903.0,128.3 L903.9,128.6 L904.9,128.9 L905.8,129.3 L906.7,129.6 L907.7,129.9 L908.6,130.2 L909.6,130.5 L910.5,130.9 L911.4,131.2 L912.4,131.5 L913.3,131.8 L914.3,132.1 L915.2,132.4 L916.1,132.8 L917.1,133.1 L918.0,133.4 L919.0,133.7 L919.9,134.0 L920.8,134.3 L921.8,134.6 L922.7,134.9 L923.7,135.2 L924.6,135.5 L925.5,135.8 L926.5,136.1 L927.4,136.4 L928.4,136.7 L929.3,137.0 L930.3,137.3 L931.2,137.6 L932.1,137.9 L933.1,138.1 L934.0,138.4 L935.0,138.7 L935.9,139.0 L936.8,139.2 L937.8,139.5 L938.7,139.8 L939.7,140.0 L940.6,140.3 L941.5,140.5 L942.5,140.8 L943.4,141.0 L944.4,141.2 L945.3,141.5 L946.2,141.7 L947.2,141.9 L948.1,142.1 L949.1,142.3 L950.0,142.5 L950.9,142.7 L951.9,142.9 L952.8,143.0 L953.8,143.2 L954.7,143.3 L955.6,143.5 L956.6,143.6 L957.5,143.7 L958.5,143.8 L959.4,143.9 L960.3,144.0 L961.3,144.1 L962.2,144.1 L963.2,144.2 L964.1,144.2 L965.0,144.2 L966.0,144.2 L966.9,144.2 L967.9,144.1 L968.8,144.1 L969.7,144.0 L970.7,143.9 L971.6,143.8 L972.6,143.6 L973.5,143.5 L974.4,143.3 L975.4,143.1 L976.3,142.8 L977.3,142.6 L978.2,142.3 L979.1,141.9 L980.1,141.6 L981.0,141.2 L982.0,140.7 L982.9,140.3 L983.8,139.8 L984.8,139.3 L985.7,138.7 L986.7,138.1 L987.6,137.4 L988.5,136.7 L989.5,136.0 L990.4,135.2 L991.4,134.4 L992.3,133.5 L993.2,132.6 L994.2,131.7 L995.1,130.7 L996.1,129.6 L997.0,128.5 L997.9,127.3 L998.9,126.1 L999.8,124.9 L1000.8,123.6 L1001.7,122.2 L1002.7,120.9 L1003.6,119.4 L1004.5,118.0 L1005.5,116.4 L1006.4,114.9 L1007.4,113.3 L1008.3,111.7 L1009.2,110.1 L1010.2,108.5 L1011.1,106.9 L1012.1,105.3 L1013.0,103.6 L1013.9,102.1 L1014.9,100.5 L1015.8,99.0 L1016.8,97.6 L1017.7,96.2 L1018.6,94.9 L1019.6,93.8 L1020.5,92.8 L1021.5,91.9 L1022.4,91.2 L1023.3,90.6 L1024.3,90.3 L1025.2,90.2 L1026.2,90.4 L1027.1,90.8 L1028.0,91.5 L1029.0,92.6 L1029.9,93.9 L1030.9,95.7 L1031.8,97.7 L1032.7,100.2 L1033.7,103.0 L1034.6,106.2 L1035.6,109.8 L1036.5,113.8 L1037.4,118.2 L1038.4,123.0 L1039.3,128.1 L1040.3,133.7 L1041.2,139.5 L1042.1,145.8 L1043.1,152.3 L1044.0,159.1 L1045.0,166.2 L1045.9,173.6 L1046.8,181.1 L1047.8,188.9 L1048.7,196.8 L1049.7,204.9 L1050.6,213.1 L1051.5,221.3 L1052.5,229.6 L1053.4,237.9 L1054.4,246.3 L1055.3,254.6 L1056.2,262.8 L1057.2,271.0 L1058.1,279.1 L1059.1,287.1 L1060.0,295.0 L1060.9,302.7 L1061.9,310.3 L1062.8,317.8 L1063.8,325.0 L1064.7,332.1 L1065.6,338.9 L1066.6,345.6 L1067.5,352.1 L1068.5,358.3 L1069.4,364.4 L1070.3,370.2 L1071.3,375.7 L1072.2,381.1 L1073.2,386.2 L1074.1,391.1 L1075.1,395.7 L1076.0,400.1 L1076.9,404.3 L1077.9,408.3 L1078.8,412.0 L1079.8,415.5 L1080.7,418.7 L1081.6,421.8 L1082.6,424.6 L1083.5,427.2 L1084.5,429.6 L1085.4,431.8 L1086.3,433.7 L1087.3,435.5 L1088.2,437.0 L1089.2,438.4 L1090.1,439.6 L1091.0,440.5 L1092.0,441.3 L1092.9,442.0 L1093.9,442.4 L1094.8,442.7 L1095.7,442.8 L1096.7,442.8 L1097.6,442.6 L1098.6,442.3 L1099.5,441.8 L1100.4,441.2 L1101.4,440.5 L1102.3,439.6 L1103.3,438.6 L1104.2,437.6 L1105.1,436.4 L1106.1,435.1 L1107.0,433.7 L1108.0,432.2 L1108.9,430.7 L1109.8,429.0 L1110.8,427.3 L1111.7,425.5 L1112.7,423.7 L1113.6,421.8 L1114.5,419.8 L1115.5,417.8 L1116.4,415.7 L1117.4,413.6 L1118.3,411.5 L1119.2,409.3 L1120.2,407.1 L1121.1,404.8 L1122.1,402.6 L1123.0,400.3 L1123.9,398.0 L1124.9,395.6 L1125.8,393.3 L1126.8,391.0 L1127.7,388.6 L1128.6,386.2 L1129.6,383.9 L1130.5,381.5 L1131.5,379.1 L1132.4,376.8 L1133.3,374.4 L1134.3,372.1 L1135.2,369.7 L1136.2,367.4 L1137.1,365.1 L1138.0,362.8 L1139.0,360.5 L1139.9,358.2 L1140.9,355.9 L1141.8,353.7 L1142.8,351.5 L1143.7,349.3 L1144.6,347.1 L1145.6,344.9 L1146.5,342.7 L1147.5,340.6 L1148.4,338.5 L1149.3,336.4 L1150.3,334.4 L1151.2,332.3 L1152.2,330.3 L1153.1,328.3 L1154.0,326.4 L1155.0,324.4 L1155.9,322.5 L1156.9,320.6 L1157.8,318.7 L1158.7,316.9 L1159.7,315.1 L1160.6,313.3 L1161.6,311.5 L1162.5,309.8 L1163.4,308.0 L1164.4,306.3 L1165.3,304.7 L1166.3,303.0 L1167.2,301.4 L1168.1,299.8 L1169.1,298.2 L1170.0,296.6 L1171.0,295.1 L1171.9,293.6 L1172.8,292.1 L1173.8,290.6 L1174.7,289.2 L1175.7,287.8 L1176.6,286.3 L1177.5,285.0 L1178.5,283.6 L1179.4,282.3 L1180.4,280.9 L1181.3,279.6 L1182.2,278.4 L1183.2,277.1 L1184.1,275.9 L1185.1,274.6 L1186.0,273.4 L1186.9,272.3 L1187.9,271.1 L1188.8,269.9 L1189.8,268.8 L1190.7,267.7 L1191.6,266.6 L1192.6,265.5 L1193.5,264.5 L1194.5,263.4 L1195.4,262.4 L1196.3,261.4 L1197.3,260.4 L1198.2,259.4 L1199.2,258.5 L1200.1,257.5 L1201.0,256.6 L1202.0,255.6 L1202.9,254.7 L1203.9,253.8 L1204.8,253.0 L1205.7,252.1 L1206.7,251.3 L1207.6,250.4 L1208.6,249.6 L1209.5,248.8 L1210.4,248.0 L1211.4,247.2 L1212.3,246.4 L1213.3,245.6 L1214.2,244.9 L1215.2,244.2 L1216.1,243.4 L1217.0,242.7 L1218.0,242.0 L1218.9,241.3 L1219.9,240.6 L1220.8,239.9 L1221.7,239.3 L1222.7,238.6 L1223.6,238.0 L1224.6,237.3 L1225.5,236.7 L1226.4,236.1 L1227.4,235.5 L1228.3,234.9 L1229.3,234.3 L1230.2,233.7 L1231.1,233.1 L1232.1,232.6 L1233.0,232.0 L1234.0,231.5 L1234.9,230.9 L1235.8,230.4 L1236.8,229.9 L1237.7,229.4 L1238.7,228.8 L1239.6,228.3 L1240.5,227.8 L1241.5,227.4 L1242.4,226.9 L1243.4,226.4 L1244.3,225.9 L1245.2,225.5 L1246.2,225.0 L1247.1,224.6 L1248.1,224.1 L1249.0,223.7 L1249.9,223.3 L1250.9,222.8 L1251.8,222.4 L1252.8,222.0 L1253.7,221.6 L1254.6,221.2 L1255.6,220.8 L1256.5,220.4 L1257.5,220.0 L1258.4,219.7 L1259.3,219.3 L1260.3,218.9 L1261.2,218.5 L1262.2,218.2 L1263.1,217.8 L1264.0,217.5 L1265.0,217.1 L1265.9,216.8 L1266.9,216.5 L1267.8,216.1 L1268.7,215.8 L1269.7,215.5 L1270.6,215.2 L1271.6,214.8 L1272.5,214.5 L1273.4,214.2 L1274.4,213.9 L1275.3,213.6 L1276.3,213.3 L1277.2,213.0 L1278.1,212.7 L1279.1,212.5 L1280.0,212.2 L1281.0,211.9 L1281.9,211.6 L1282.9,211.3 L1283.8,211.1 L1284.7,210.8 L1285.7,210.6 L1286.6,210.3 L1287.6,210.0 L1288.5,209.8 L1289.4,209.5 L1290.4,209.3 L1291.3,209.0 L1292.3,208.8 L1293.2,208.6 L1294.1,208.3 L1295.1,208.1 L1296.0,207.9 L1297.0,207.6 L1297.9,207.4 L1298.8,207.2 L1299.8,207.0 L1300.7,206.8 L1301.7,206.6 L1302.6,206.3 L1303.5,206.1 L1304.5,205.9 L1305.4,205.7 L1306.4,205.5 L1307.3,205.3 L1308.2,205.1 L1309.2,204.9 L1310.1,204.7 L1311.1,204.5 L1312.0,204.3 L1312.9,204.2 L1313.9,204.0 L1314.8,203.8 L1315.8,203.6 L1316.7,203.4 L1317.6,203.3 L1318.6,203.1 L1319.5,202.9 L1320.5,202.7 L1321.4,202.6 L1322.3,202.4 L1323.3,202.2 L1324.2,202.1 L1325.2,201.9 L1326.1,201.7 L1327.0,201.6 L1328.0,201.4 L1328.9,201.2 L1329.9,201.1 L1330.8,200.9 L1331.7,200.8 L1332.7,200.6 L1333.6,200.5 L1334.6,200.3 L1335.5,200.2 L1336.4,200.0 L1337.4,199.9 L1338.3,199.7 L1339.3,199.6 L1340.2,199.5 L1341.1,199.3 L1342.1,199.2 L1343.0,199.0 L1344.0,198.9 L1344.9,198.8 L1345.8,198.6 L1346.8,198.5 L1347.7,198.4 L1348.7,198.2 L1349.6,198.1 L1350.5,198.0 L1351.5,197.9 L1352.4,197.7 L1353.4,197.6 L1354.3,197.5 L1355.3,197.4 L1356.2,197.2 L1357.1,197.1 L1358.1,197.0 L1359.0,196.9 L1360.0,196.8 L1360.9,196.6 L1361.8,196.5 L1362.8,196.4 L1363.7,196.3 L1364.7,196.2 L1365.6,196.1 L1366.5,195.9 L1367.5,195.8 L1368.4,195.7 L1369.4,195.6 L1370.3,195.5 L1371.2,195.4 L1372.2,195.3 L1373.1,195.2 L1374.1,195.1 L1375.0,195.0 L1375.9,194.9 L1376.9,194.8 L1377.8,194.7 L1378.8,194.5 L1379.7,194.4 L1380.6,194.3 L1381.6,194.2 L1382.5,194.1 L1383.5,194.0 L1384.4,193.9 L1385.3,193.8 L1386.3,193.7 L1387.2,193.6" stroke="#1414b4" stroke-width="5.2" stroke-dasharray="9.7 15.8"/>
</g>
<g stroke-linecap="round" stroke-width="5.4">
<path class="c" d="M1160,81.8H1213.2" stroke="#e60a0f"/>
<path class="c" d="M1160,122.3H1213.2" stroke="#1414b4" stroke-dasharray="9.2 16.1"/>
</g>
<text class="t" x="1219.2" y="89.7">32°C~62°C</text>
<text class="t" x="1220.2" y="131.2">32°C~82°C</text>
</g>
</svg></body></html>
